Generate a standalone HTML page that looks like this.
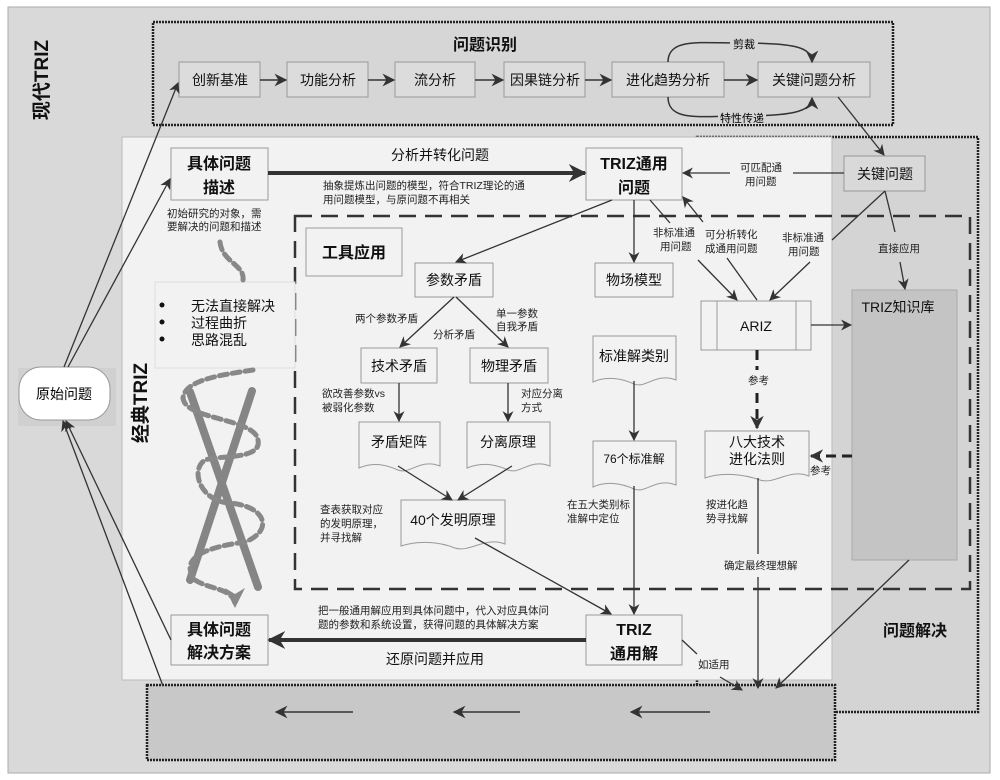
<!DOCTYPE html>
<html><head><meta charset="utf-8"><style>
html,body{margin:0;padding:0;background:#fff;}
svg{display:block;font-family:"Liberation Sans","Noto Sans CJK SC",sans-serif;}
</style></head><body>
<svg width="1000" height="780" viewBox="0 0 1000 780" xmlns="http://www.w3.org/2000/svg">
<defs>
<marker id="a" viewBox="0 0 10 10" refX="9" refY="5" markerWidth="8.5" markerHeight="8.5" orient="auto"><path d="M0,0 L10,5 L0,10 L3,5 z" fill="#333"/></marker>
<marker id="b" viewBox="0 0 10 10" refX="9" refY="5" markerWidth="4.5" markerHeight="4.5" orient="auto"><path d="M0,0 L10,5 L0,10 L3,5 z" fill="#333"/></marker>
<marker id="g" viewBox="0 0 10 10" refX="9" refY="5" markerWidth="4" markerHeight="4" orient="auto"><path d="M0,0 L10,5 L0,10 L3,5 z" fill="#888"/></marker>
</defs>
<rect x="0" y="0" width="1000" height="780" fill="#fff"/>
<rect x="8" y="7" width="982" height="766" fill="#d9d9d9" stroke="#aaa"/>
<rect x="153" y="22" width="740" height="103" fill="#d6d6d6" stroke="#222" stroke-width="2.5" stroke-dasharray="2,1"/>
<text x="485" y="50" font-size="16" font-weight="bold" text-anchor="middle" fill="#111">问题识别</text>
<text transform="translate(48,80) rotate(-90)" font-size="19" font-weight="bold" text-anchor="middle" fill="#111">现代TRIZ</text>
<g fill="#dcdcdc" stroke="#999">
<rect x="179" y="62" width="81" height="35"/><rect x="287" y="62" width="81" height="35"/>
<rect x="395" y="62" width="80" height="35"/><rect x="504" y="62" width="81" height="35"/>
<rect x="612" y="62" width="112" height="35"/><rect x="758" y="62" width="112" height="35"/>
</g>
<g font-size="14" text-anchor="middle" fill="#111">
<text x="220" y="85">创新基准</text><text x="328" y="85">功能分析</text><text x="435" y="85">流分析</text>
<text x="545" y="85">因果链分析</text><text x="668" y="85">进化趋势分析</text><text x="814" y="85">关键问题分析</text>
</g>
<g stroke="#333" stroke-width="1.5" fill="none" marker-end="url(#a)">
<line x1="260" y1="80" x2="286" y2="80"/><line x1="368" y1="80" x2="394" y2="80"/>
<line x1="475" y1="80" x2="503" y2="80"/><line x1="585" y1="80" x2="611" y2="80"/>
<line x1="724" y1="80" x2="757" y2="80"/>
<path d="M668,62 C668,38 700,43 740,43 C790,43 812,46 812,62"/>
<path d="M668,97 C668,122 700,116 740,116 C790,116 812,112 812,98"/>
</g>
<rect x="730" y="36" width="28" height="14" fill="#d6d6d6"/><text x="744" y="48" font-size="11" text-anchor="middle">剪裁</text>
<rect x="718" y="110" width="48" height="14" fill="#d6d6d6"/><text x="742" y="122" font-size="11" text-anchor="middle">特性传递</text>
<rect x="697" y="137" width="281" height="575" fill="#d4d4d4" stroke="#222" stroke-width="2.5" stroke-dasharray="2,1"/>
<rect x="122" y="137" width="710" height="543" fill="#f2f2f2" stroke="#bbb"/>
<rect x="833" y="139" width="143" height="571" fill="#d4d4d4"/>
<rect x="147" y="685" width="688" height="75" fill="#c8c8c8" stroke="#222" stroke-width="2.5" stroke-dasharray="2,1"/>
<g stroke="#333" stroke-width="1.5" marker-end="url(#a)">
<line x1="353" y1="712" x2="276" y2="712"/><line x1="520" y1="712" x2="454" y2="712"/><line x1="710" y1="712" x2="631" y2="712"/>
</g>
<rect x="295" y="216" width="675" height="373" fill="none" stroke="#333" stroke-width="2.5" stroke-dasharray="17,9"/>
<text x="915" y="636" font-size="16" font-weight="bold" text-anchor="middle" fill="#111">问题解决</text>
<text transform="translate(147,403) rotate(-90)" font-size="19" font-weight="bold" text-anchor="middle" fill="#111">经典TRIZ</text>
<rect x="155" y="282" width="140" height="86" fill="#f2f2f2" stroke="#ddd"/>
<g font-size="14" fill="#111"><circle cx="162" cy="305" r="2.5"/><circle cx="162" cy="322" r="2.5"/><circle cx="162" cy="339" r="2.5"/>
<text x="191" y="311">无法直接解决</text><text x="191" y="328">过程曲折</text><text x="191" y="345">思路混乱</text></g>
<rect x="18" y="368" width="98" height="58" fill="#d0d0d0"/>
<rect x="19" y="367" width="91" height="53" rx="22" fill="#fff" stroke="#999"/>
<text x="64" y="399" font-size="14" text-anchor="middle">原始问题</text>
<g fill="#f2f2f2" stroke="#999">
<rect x="171" y="148" width="97" height="52"/><rect x="586" y="148" width="96" height="52"/>
<rect x="171" y="615" width="97" height="50"/><rect x="586" y="615" width="96" height="50"/>
<rect x="306" y="228" width="96" height="48"/><rect x="415" y="263" width="78" height="34"/>
<rect x="361" y="348" width="76" height="35"/><rect x="470" y="348" width="78" height="35"/>
<rect x="595" y="263" width="78" height="34"/>
<rect x="701" y="301" width="110" height="49"/>
</g>
<rect x="844" y="156" width="81" height="35" fill="#d9d9d9" stroke="#999"/>
<rect x="852" y="290" width="105" height="270" fill="#c4c4c4" stroke="#aaa"/>
<line x1="717" y1="301" x2="717" y2="350" stroke="#999"/><line x1="796" y1="301" x2="796" y2="350" stroke="#999"/>
<g fill="#f2f2f2" stroke="#999">
<path d="M359,422 H440 V466 C420,458 410,475 398,470 C385,464 372,462 359,468 Z"/>
<path d="M467,422 H550 V466 C530,458 520,475 508,470 C495,464 482,462 467,468 Z"/>
<path d="M401,500 H505 V544 C485,536 470,553 455,548 C440,542 420,540 401,546 Z"/>
<path d="M593,336 H676 V380 C656,372 646,389 634,384 C621,378 606,376 593,382 Z"/>
<path d="M593,441 H676 V485 C656,477 646,494 634,489 C621,483 606,481 593,487 Z"/>
<path d="M705,431 H809 V476 C789,468 775,485 760,480 C743,474 722,472 705,478 Z"/>
</g>
<g font-size="16" font-weight="bold" text-anchor="middle" fill="#111">
<text x="219" y="169">具体问题</text><text x="219" y="193">描述</text>
<text x="634" y="169">TRIZ通用</text><text x="634" y="193">问题</text>
<text x="219" y="635">具体问题</text><text x="219" y="658">解决方案</text>
<text x="634" y="635">TRIZ</text><text x="634" y="659">通用解</text>
<text x="354" y="258">工具应用</text>
</g>
<g font-size="14" text-anchor="middle" fill="#111">
<text x="454" y="285">参数矛盾</text><text x="399" y="371">技术矛盾</text><text x="509" y="371">物理矛盾</text>
<text x="634" y="285">物场模型</text><text x="885" y="179">关键问题</text><text x="756" y="331">ARIZ</text>
<text x="399" y="447">矛盾矩阵</text><text x="508" y="447">分离原理</text><text x="453" y="525">40个发明原理</text>
<text x="634" y="361">标准解类别</text><text x="634" y="463" font-size="12">76个标准解</text>
<text x="757" y="447">八大技术</text><text x="757" y="464">进化法则</text>
<text x="898" y="312">TRIZ知识库</text>
<text x="440" y="160">分析并转化问题</text><text x="435" y="664">还原问题并应用</text>
</g>
<g font-size="10.5" fill="#222">
<text x="323" y="189">抽象提炼出问题的模型，符合TRIZ理论的通</text><text x="323" y="203">用问题模型，与原问题不再相关</text>
<text x="167" y="217">初始研究的对象，需</text><text x="167" y="230">要解决的问题和描述</text>
<text x="355" y="322">两个参数矛盾</text><text x="433" y="338">分析矛盾</text>
<text x="496" y="317">单一参数</text><text x="496" y="330">自我矛盾</text>
<text x="322" y="397">欲改善参数vs</text><text x="322" y="411">被弱化参数</text>
<text x="521" y="397">对应分离</text><text x="521" y="411">方式</text>
<text x="320" y="513">查表获取对应</text><text x="320" y="527">的发明原理，</text><text x="320" y="541">并寻找解</text>
<text x="567" y="508">在五大类别标</text><text x="567" y="522">准解中定位</text>
<text x="706" y="508">按进化趋</text><text x="706" y="522">势寻找解</text>
<text x="724" y="569">确定最终理想解</text>
<text x="653" y="236">非标准通</text><text x="660" y="250">用问题</text>
<text x="705" y="238">可分析转化</text><text x="705" y="252">成通用问题</text>
<text x="782" y="241">非标准通</text><text x="788" y="255">用问题</text>
<text x="740" y="171">可匹配通</text><text x="745" y="185">用问题</text>
<text x="878" y="252">直接应用</text><text x="748" y="384">参考</text><text x="810" y="474">参考</text>
<text x="698" y="668">如适用</text>
<text x="318" y="614">把一般通用解应用到具体问题中，代入对应具体问</text><text x="318" y="628">题的参数和系统设置，获得问题的具体解决方案</text>
</g>
<g stroke="#858585" stroke-width="8" stroke-linecap="round"><line x1="190" y1="392" x2="258" y2="587"/><line x1="252" y1="391" x2="190" y2="580"/></g>
<g fill="none" stroke="#888" stroke-width="5" stroke-dasharray="8,5" stroke-linecap="round">
<path d="M220,242 C222,262 245,265 243,280"/>
<path d="M253,370 C220,375 185,380 183,398 C185,420 255,418 258,440 C262,460 220,455 205,460 C190,470 200,500 228,503 C265,505 275,530 245,542 C200,548 180,560 195,580 C210,590 235,588 235,606" marker-end="url(#g)"/>
</g>
<g stroke="#333" stroke-width="1.3" fill="none" marker-end="url(#a)">
<line x1="64" y1="367" x2="178" y2="83"/><line x1="68" y1="367" x2="170" y2="179"/>
<line x1="171" y1="640" x2="66" y2="421"/><line x1="163" y1="686" x2="63" y2="421"/>
<line x1="838" y1="97" x2="884" y2="155"/>
<line x1="612" y1="200" x2="456" y2="262"/>
<line x1="634" y1="200" x2="634" y2="262"/>
<line x1="698" y1="260" x2="737" y2="300"/>
<line x1="703" y1="222" x2="683" y2="197"/>
<line x1="810" y1="262" x2="770" y2="300"/>
<line x1="900" y1="262" x2="905" y2="289"/>
<line x1="811" y1="325" x2="851" y2="325"/>
<line x1="454" y1="297" x2="400" y2="347"/><line x1="456" y1="297" x2="508" y2="347"/>
<line x1="399" y1="383" x2="399" y2="421"/><line x1="508" y1="383" x2="508" y2="421"/>
<line x1="398" y1="466" x2="452" y2="500"/><line x1="512" y1="466" x2="458" y2="500"/>
<line x1="475" y1="538" x2="611" y2="614"/>
<line x1="634" y1="381" x2="634" y2="440"/><line x1="634" y1="486" x2="634" y2="614"/>
<line x1="758" y1="577" x2="758" y2="688"/>
<line x1="909" y1="560" x2="776" y2="688"/>
<line x1="720" y1="677" x2="742" y2="690"/>
</g>
<g stroke="#333" stroke-width="1.3" fill="none">
<line x1="844" y1="173" x2="793" y2="173"/><line x1="650" y1="200" x2="670" y2="223"/>
<line x1="885" y1="191" x2="832" y2="240"/><line x1="885" y1="191" x2="895" y2="232"/>
<line x1="758" y1="478" x2="758" y2="554"/><line x1="682" y1="640" x2="697" y2="654"/>
<line x1="727" y1="258" x2="757" y2="300"/>
</g>
<line x1="730" y1="173" x2="683" y2="173" stroke="#333" stroke-width="1.3" marker-end="url(#a)"/>
<line x1="268" y1="173" x2="585" y2="173" stroke="#333" stroke-width="4" marker-end="url(#b)"/>
<line x1="586" y1="640" x2="269" y2="640" stroke="#333" stroke-width="4" marker-end="url(#b)"/>
<g stroke="#222" stroke-width="3" stroke-dasharray="10,6" fill="none">
<line x1="757" y1="350" x2="757" y2="370"/><line x1="757" y1="393" x2="757" y2="428" marker-end="url(#b)"/>
<line x1="852" y1="456" x2="811" y2="456" marker-end="url(#b)"/>
</g>
</svg>
</body></html>
